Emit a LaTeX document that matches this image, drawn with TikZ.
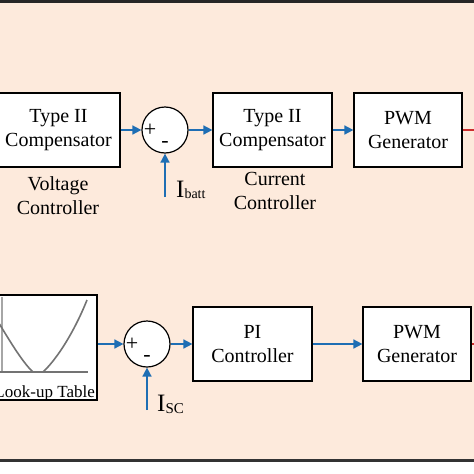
\documentclass[tikz,border=0pt]{standalone}
\usepackage{fontspec}
\setmainfont{Liberation Serif}
\usetikzlibrary{positioning, calc, arrows.meta}

\definecolor{bgpeach}{RGB}{253,234,220}
\definecolor{sigblue}{RGB}{30,110,180}
\definecolor{outred}{RGB}{205,45,45}

\tikzset{
  blk/.style={draw, line width=1.2pt, fill=white, align=center, inner sep=0pt,
              font=\fontsize{20}{24}\selectfont},
  sumc/.style={draw, circle, line width=1.2pt, fill=white, minimum size=46pt, inner sep=0pt},
  sig/.style={draw=sigblue, line width=1.6pt, -{Triangle[length=9pt,width=9pt]}},
  outl/.style={draw=outred, line width=1.4pt},
  lbl/.style={align=center, inner sep=0pt, font=\fontsize{20}{24}\selectfont},
  sgn/.style={inner sep=0pt, font=\fontsize{22}{24}\selectfont},
}

\begin{document}
\begin{tikzpicture}[x=1pt,y=-1pt]
    \path[use as bounding box, clip] (0,0) rectangle (474,474);
    % background and frame
    \fill[white] (0,0) rectangle (474,474);
    \fill[bgpeach] (0,0) rectangle (474,460);
    \fill[black!85] (0,0) rectangle (474,3);
    \fill[black!80] (0,459) rectangle (474,462);

    % upper loop
    \node[blk, minimum width=123pt, minimum height=74pt] (vc) at (58.5,130) {Type II\\Compensator};
    \node[sumc] (sum1) at (165,130) {};
    \node[sgn] at ($(sum1.center)+(-15,0)$) {+};
    \node[sgn] at ($(sum1.center)+(0,14)$) {-};
    \node[blk, minimum width=119pt, minimum height=74pt] (cc) at (272.5,130) {Type II\\Compensator};
    \node[blk, minimum width=108pt, minimum height=74pt] (pwm1) at (408,130) {PWM\\Generator};
    \node[lbl] (vclbl) at (58,196) {Voltage\\Controller};
    \node[lbl] (cclbl) at (275,191) {Current\\Controller};
    \coordinate (ib) at (165,197);
    \node[anchor=base west, inner sep=0pt] (iblbl) at (176,197)
        {{\fontsize{25}{25}\selectfont I}\raisebox{-1.5pt}{\fontsize{14}{14}\selectfont batt}};
    \coordinate (out1) at (480,130);

    \draw[sig] (vc.east) -- (sum1.west);
    \draw[sig] (sum1.east) -- (cc.west);
    \draw[sig] (cc.east) -- (pwm1.west);
    \draw[sig] (ib) -- (sum1.south);
    \draw[outl] (pwm1.east) -- (out1);

    % lower loop
    \node[blk, minimum width=127pt, minimum height=105pt] (lut) at (33.5,347.5) {};
    \draw[black!35, line width=2pt] (2,297) -- (2,372);
    \draw[black!55, line width=1.3pt] (0,372) -- (88,372);
    \draw[black!55, line width=1.6pt] (-6,315) .. controls (8,338) and (22,362) .. (33,372)
        -- (43,372) .. controls (58,358) and (75,330) .. (87,300);
    \node[anchor=base east, inner sep=0pt, font=\fontsize{17}{20}\selectfont] (lutlbl) at (95,397) {Look-up Table};
    \node[sumc] (sum2) at (147,344) {};
    \node[sgn] at ($(sum2.center)+(-15,0)$) {+};
    \node[sgn] at ($(sum2.center)+(0,14)$) {-};
    \node[blk, minimum width=119pt, minimum height=74pt] (pi) at (252.5,344) {PI\\Controller};
    \node[blk, minimum width=108pt, minimum height=74pt] (pwm2) at (417,344) {PWM\\Generator};
    \coordinate (isc) at (147,410);
    \node[anchor=base west, inner sep=0pt] (isclbl) at (157,411)
        {{\fontsize{25}{25}\selectfont I}\raisebox{-2pt}{\fontsize{15}{15}\selectfont SC}};
    \coordinate (out2) at (480,344);

    \draw[sig] (sum2.west -| lut.east) -- (sum2.west);
    \draw[sig] (sum2.east) -- (pi.west);
    \draw[sig] (pi.east) -- (pwm2.west);
    \draw[sig] (isc) -- (sum2.south);
    \draw[outl] (pwm2.east) -- (out2);
\end{tikzpicture}
\end{document}
